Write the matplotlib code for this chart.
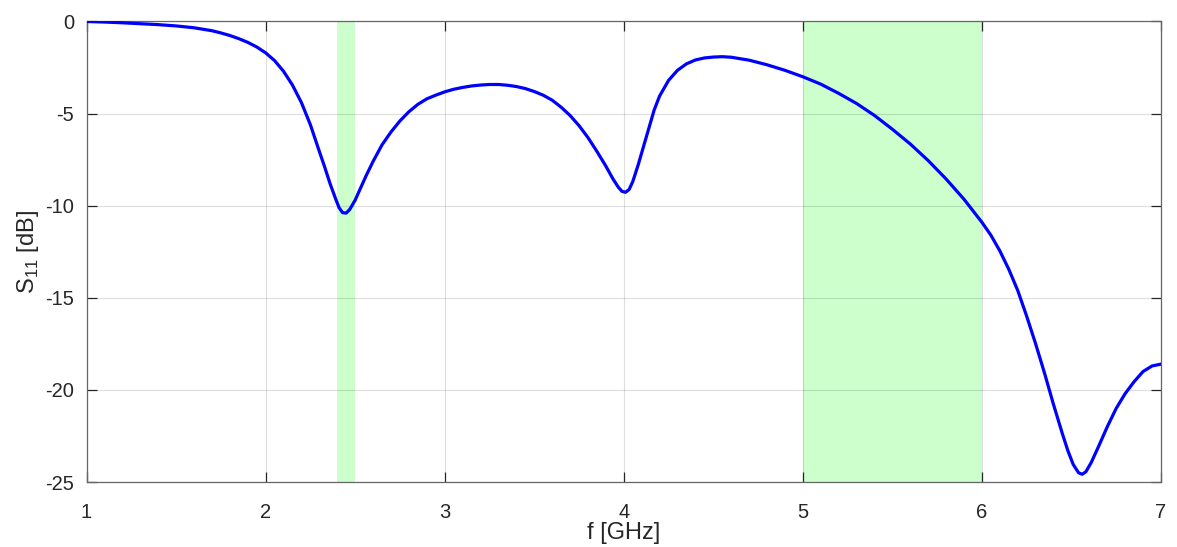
import matplotlib
matplotlib.use("Agg")
import matplotlib.pyplot as plt

freq_ghz = [1.0, 1.1, 1.2, 1.3, 1.4, 1.5, 1.6, 1.65, 1.7, 1.75, 1.8, 1.85, 1.9, 1.95,
            2.0, 2.05, 2.1, 2.15, 2.2, 2.25, 2.3, 2.33, 2.36, 2.39, 2.41, 2.43, 2.45,
            2.47, 2.5, 2.53, 2.56, 2.6, 2.65, 2.7, 2.75, 2.8, 2.85, 2.9, 2.95,
            3.0, 3.05, 3.1, 3.15, 3.2, 3.25, 3.3, 3.35, 3.4, 3.45, 3.5, 3.55,
            3.6, 3.65, 3.7, 3.75, 3.8, 3.85, 3.9, 3.94, 3.97, 3.99, 4.01, 4.03, 4.05,
            4.08, 4.11, 4.14, 4.17, 4.2, 4.25, 4.3, 4.35, 4.4, 4.45, 4.5, 4.55,
            4.6, 4.65, 4.7, 4.8, 4.9, 5.0, 5.1, 5.2, 5.3, 5.4, 5.5, 5.6, 5.7,
            5.8, 5.9, 6.0, 6.05, 6.1, 6.15, 6.2, 6.25, 6.3, 6.35, 6.4, 6.45,
            6.48, 6.51, 6.54, 6.56, 6.58, 6.61, 6.65, 6.7, 6.75, 6.8, 6.85,
            6.9, 6.95, 7.0]
s11_db = [0.0, -0.03, -0.07, -0.12, -0.17, -0.24, -0.34, -0.42, -0.5, -0.62, -0.76, -0.93, -1.13, -1.38,
          -1.7, -2.12, -2.7, -3.45, -4.4, -5.6, -7.05, -7.9, -8.8, -9.6, -10.1, -10.38, -10.4,
          -10.2, -9.7, -9.05, -8.4, -7.6, -6.7, -6.0, -5.4, -4.9, -4.5, -4.2, -4.0,
          -3.82, -3.68, -3.58, -3.5, -3.45, -3.42, -3.42, -3.46, -3.53, -3.64, -3.8, -4.0,
          -4.27, -4.65, -5.1, -5.65, -6.3, -7.05, -7.85, -8.55, -9.0, -9.22, -9.27, -9.12, -8.7,
          -7.8, -6.8, -5.8, -4.8, -4.05, -3.2, -2.65, -2.3, -2.09, -1.98, -1.93, -1.91,
          -1.94, -2.02, -2.1, -2.35, -2.65, -3.0, -3.4, -3.9, -4.45, -5.1, -5.85, -6.65, -7.55,
          -8.55, -9.65, -10.9, -11.6, -12.45, -13.45, -14.6, -16.0, -17.5, -19.1, -20.8, -22.4,
          -23.3, -24.05, -24.5, -24.58, -24.45, -23.95, -23.1, -22.0, -21.0, -20.2, -19.55,
          -19.0, -18.7, -18.6]

bands = [(2.4, 2.5), (5.0, 6.0)]
xticks = [1, 2, 3, 4, 5, 6, 7]
yticks = [0, -5, -10, -15, -20, -25]

plt.rcParams['font.family'] = ['Liberation Sans', 'DejaVu Sans']
plt.rcParams['axes.unicode_minus'] = False
plt.rcParams['mathtext.fontset'] = 'custom'
plt.rcParams['mathtext.rm'] = 'Liberation Sans'

fig = plt.figure(figsize=(11.77, 5.47), dpi=100)
ax = fig.add_axes([0.0735, 0.1188, 0.9129, 0.8419])

for a, b in bands:
    ax.axvspan(a, b, color=(0.8, 1.0, 0.8), zorder=0.2, lw=0)

ax.plot(freq_ghz, s11_db, color=(0, 0, 1), lw=2.3, zorder=3,
        solid_joinstyle='round', solid_capstyle='round')

ax.set_xlim(1, 7)
ax.set_ylim(-25, 0)
ax.set_xticks(xticks)
ax.set_yticks(yticks)
ax.set_axisbelow(True)
ax.grid(True, color='black', alpha=0.13, lw=0.8)
ax.tick_params(direction='in', length=7, width=0.9, top=True, right=True,
               labelsize=14.5, colors=(0.15, 0.15, 0.15))
ax.tick_params(axis='x', pad=15)
ax.tick_params(axis='y', pad=9)
for s in ax.spines.values():
    s.set_color((0.4, 0.4, 0.4))
    s.set_linewidth(0.9)

ax.set_xlabel('f [GHz]', fontsize=17, color=(0.15, 0.15, 0.15), labelpad=0)
ax.set_ylabel(r'S$_{\mathregular{11}}$ [dB]', fontsize=17, color=(0.15, 0.15, 0.15), labelpad=3)

fig.savefig('out.png', dpi=100)
